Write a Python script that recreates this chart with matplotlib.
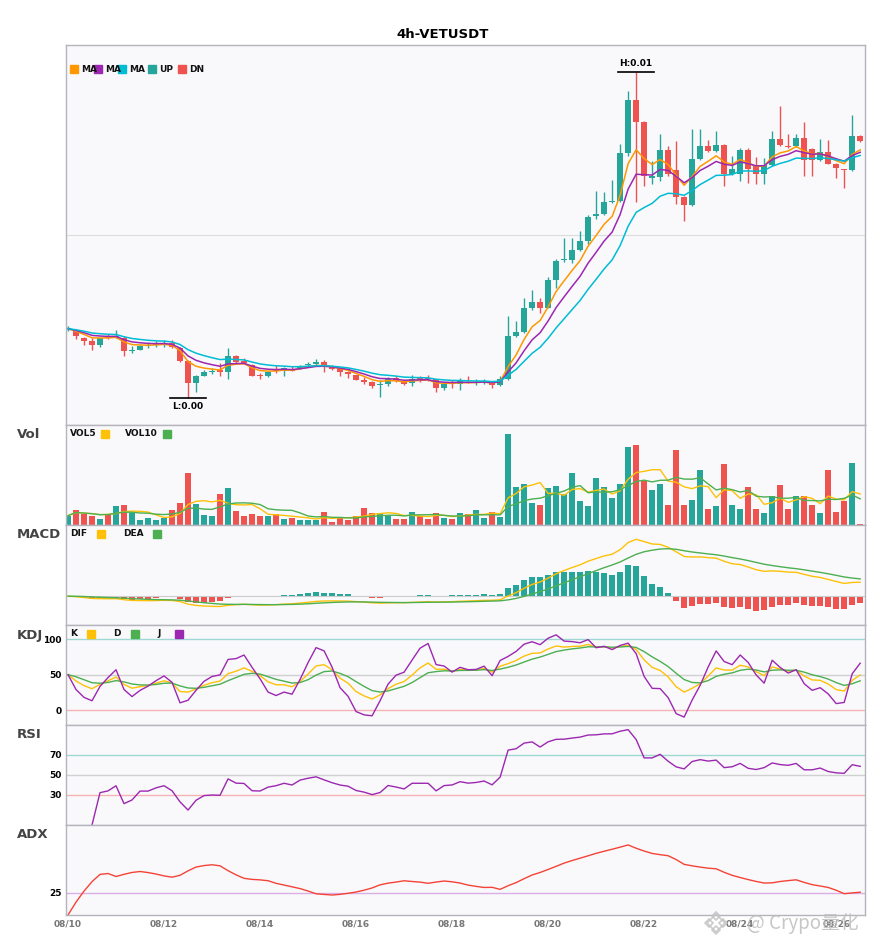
import numpy as np
import pandas as pd
import matplotlib
matplotlib.use('Agg')
import matplotlib.pyplot as plt
from matplotlib.patches import Rectangle
from matplotlib.lines import Line2D

# ---- data (prices in 1e-5 USDT, 4h candles) ----
opens = [541, 540, 523, 518, 510, 525, 526, 523, 497, 500,
         507, 510, 512, 513, 503, 477, 433, 448, 455, 460,
         455, 488, 478, 470, 449, 447, 462, 457, 462, 462,
         469, 472, 475, 467, 461, 456, 449, 440, 436, 429,
         431, 443, 437, 433, 442, 442, 441, 423, 435, 431,
         435, 434, 435, 435, 430, 442, 527, 536, 584, 596,
         584, 640, 679, 680, 700, 718, 767, 771, 796, 797,
         893, 999, 955, 844, 845, 900, 860, 806, 789, 882,
         908, 897, 910, 851, 852, 900, 868, 851, 870, 922,
         908, 908, 924, 901, 880, 895, 872, 862, 860, 928]
highs = [547, 542, 526, 523, 524, 532, 540, 528, 507, 509,
         515, 517, 519, 520, 506, 480, 450, 460, 463, 473,
         503, 490, 484, 472, 453, 456, 470, 466, 468, 470,
         476, 481, 480, 470, 462, 458, 450, 445, 438, 440,
         445, 447, 440, 449, 447, 450, 442, 432, 440, 443,
         448, 441, 441, 437, 447, 567, 557, 604, 620, 604,
         646, 681, 723, 724, 738, 770, 818, 816, 840, 911,
         1018, 1056, 958, 878, 932, 907, 918, 808, 942, 942,
         920, 938, 912, 888, 904, 904, 885, 884, 937, 987,
         932, 932, 956, 904, 922, 920, 874, 862, 969, 930]
lows = [537, 521, 510, 500, 505, 521, 523, 488, 493, 499,
        503, 505, 505, 503, 476, 403, 415, 447, 452, 447,
        441, 473, 472, 447, 441, 446, 454, 448, 457, 461,
        465, 470, 455, 459, 448, 443, 439, 431, 423, 405,
        427, 435, 430, 427, 436, 438, 415, 420, 423, 420,
        433, 429, 431, 423, 428, 440, 525, 534, 579, 573,
        583, 623, 675, 673, 698, 712, 761, 769, 793, 796,
        888, 795, 827, 832, 837, 848, 792, 758, 788, 880,
        896, 896, 827, 850, 837, 833, 831, 831, 868, 908,
        904, 906, 848, 847, 878, 872, 844, 823, 858, 915]
closes = [542, 527, 518, 510, 523, 524, 527, 497, 500, 508,
          508, 511, 513, 505, 477, 433, 448, 456, 457, 456,
          488, 475, 474, 448, 447, 455, 458, 463, 458, 468,
          472, 475, 468, 461, 455, 452, 440, 435, 427, 430,
          441, 437, 432, 441, 441, 441, 423, 431, 432, 437,
          434, 435, 437, 430, 441, 527, 536, 583, 596, 584,
          640, 678, 681, 700, 718, 765, 771, 796, 798, 894,
          999, 955, 847, 847, 900, 851, 806, 789, 881, 908,
          897, 910, 851, 861, 900, 861, 851, 870, 922, 910,
          905, 924, 880, 880, 895, 872, 863, 860, 928, 918]
volumes = [28, 46, 33, 28, 19, 33, 58, 61, 36, 16,
           22, 16, 22, 46, 67, 154, 64, 31, 28, 91,
           109, 43, 28, 34, 28, 28, 34, 19, 22, 16,
           16, 16, 40, 10, 25, 16, 28, 52, 37, 37,
           28, 19, 19, 40, 28, 19, 37, 22, 19, 37,
           34, 46, 22, 40, 25, 271, 112, 121, 67, 61,
           109, 115, 91, 154, 73, 58, 139, 112, 79, 121,
           232, 238, 130, 103, 121, 61, 223, 61, 76, 163,
           49, 58, 181, 61, 49, 112, 49, 37, 85, 118,
           49, 85, 85, 61, 37, 163, 40, 73, 184, 2]
date_labels = ['08/10', '08/12', '08/14', '08/16', '08/18', '08/20', '08/22', '08/24', '08/26']
date_pos = [0, 12, 24, 36, 48, 60, 72, 84, 96]

UP = '#26a69a'
DN = '#ef5350'
YEL = '#ffc107'
GRN = '#4caf50'
PUR = '#9c27b0'
BG = '#f9f9fc'
EDGE = '#b4b4bc'

df = pd.DataFrame({'o': opens, 'h': highs, 'l': lows, 'c': closes}) * 1e-5
df['v'] = volumes
x = np.arange(len(df))
up = df.c >= df.o
cols = np.where(up, UP, DN)

# indicators
ma1 = df.c.ewm(span=5, adjust=False).mean()
ma2 = df.c.ewm(span=8, adjust=False).mean()
ma3 = df.c.ewm(span=14, adjust=False).mean()
vol5 = df.v.rolling(5, min_periods=1).mean()
vol10 = df.v.rolling(10, min_periods=1).mean()

dif = df.c.ewm(span=12, adjust=False).mean() - df.c.ewm(span=26, adjust=False).mean()
dea = dif.ewm(span=9, adjust=False).mean()
hist = 2 * (dif - dea)

llv = df.l.rolling(9, min_periods=1).min()
hhv = df.h.rolling(9, min_periods=1).max()
rsv = (df.c - llv) / (hhv - llv) * 100
k = rsv.ewm(com=2, adjust=False).mean()
d = k.ewm(com=2, adjust=False).mean()
j = 3 * k - 2 * d

chg = df.c.diff()
gain = chg.clip(lower=0).ewm(alpha=1/14, min_periods=3).mean()
loss = (-chg).clip(lower=0).ewm(alpha=1/14, min_periods=3).mean()
rsi = 100 * gain / (gain + loss)

pc = df.c.shift()
tr = pd.concat([df.h - df.l, (df.h - pc).abs(), (df.l - pc).abs()], axis=1).max(axis=1)
upm = df.h.diff()
dnm = -df.l.diff()
pdm = pd.Series(np.where((upm > dnm) & (upm > 0), upm, 0.0))
mdm = pd.Series(np.where((dnm > upm) & (dnm > 0), dnm, 0.0))
atr = tr.ewm(alpha=1/12, adjust=False).mean()
pdi = 100 * pdm.ewm(alpha=1/12, adjust=False).mean() / atr
mdi = 100 * mdm.ewm(alpha=1/12, adjust=False).mean() / atr
dx = (100 * (pdi - mdi).abs() / (pdi + mdi)).fillna(0)
adx = dx.ewm(alpha=1/7, adjust=False).mean()

# ---- figure ----
W, H = 885, 950
fig = plt.figure(figsize=(W / 100, H / 100), dpi=100)
fig.patch.set_facecolor('white')

def make_ax(top, bottom):
    ax = fig.add_axes([66 / W, 1 - bottom / H, (865 - 66) / W, (bottom - top) / H])
    ax.set_facecolor(BG)
    for s in ax.spines.values():
        s.set_color(EDGE)
        s.set_linewidth(1)
    ax.set_xlim(-0.25, 99.6)
    ax.set_xticks([])
    ax.tick_params(axis='y', length=0, labelsize=6.5, pad=3)
    return ax

def fx(px):
    return px / W

def fy(py):
    return 1 - py / H

def square(px, py, color):
    fig.add_artist(Rectangle((fx(px), fy(py + 4)), 8 / W, 8 / H, color=color,
                             transform=fig.transFigure))

def label(px, py, s, size=6.5, color='#111111'):
    fig.text(fx(px), fy(py), s, fontsize=size, fontweight='bold', color=color, va='center', ha='left')

fig.text(0.5, fy(34), '4h-VETUSDT', ha='center', va='center', fontsize=9.5, fontweight='bold')

# price panel
ax = make_ax(45, 425)
lo, hi = df.l.min(), df.h.max()
r = hi - lo
ax.set_ylim(lo - 0.082 * r, hi + 0.082 * r)
ax.set_yticks([(lo + hi) / 2])
ax.set_yticklabels([])
ax.grid(axis='y', color='#dcdcdc', lw=0.8)
ax.set_axisbelow(True)
ax.vlines(x, df.l, df.h, colors=cols, lw=1)
body = np.maximum((df.c - df.o).abs(), 1.5e-5)
ax.bar(x, body, bottom=np.minimum(df.o, df.c), width=0.72, color=cols)
ax.plot(x, ma1, color='#ff9800', lw=1.1)
ax.plot(x, ma2, color=PUR, lw=1.1)
ax.plot(x, ma3, color='#00bcd4', lw=1.1)
ih, il = int(df.h.idxmax()), int(df.l.idxmin())
ax.plot([ih - 2.25, ih + 2.25], [hi, hi], color='black', lw=1.2)
ax.annotate(f'H:{hi:.2f}', (ih, hi), xytext=(0, 3), textcoords='offset points',
            ha='center', va='bottom', fontsize=6.5, fontweight='bold')
ax.plot([il - 2.25, il + 2.25], [lo, lo], color='black', lw=1.2)
ax.annotate(f'L:{lo:.2f}', (il, lo), xytext=(0, -3), textcoords='offset points',
            ha='center', va='top', fontsize=6.5, fontweight='bold')
legend_items = [(70, '#ff9800', 'MA'), (94, PUR, 'MA'), (118, '#00bcd4', 'MA'), (148, UP, 'UP'), (178, DN, 'DN')]
for px, c, s in legend_items:
    label(px + 11, 69, s)
for px, c, s in legend_items:
    square(px, 69, c)

# volume
ax = make_ax(425, 525)
ax.bar(x, df.v, width=0.82, color=cols)
ax.plot(x, vol5, color=YEL, lw=1)
ax.plot(x, vol10, color=GRN, lw=1)
ax.set_ylim(0, df.v.max() * 1.1)
ax.set_yticks([])
label(70, 434, 'VOL5'); square(101, 434, YEL)
label(125, 434, 'VOL10'); square(163, 434, GRN)

# macd
ax = make_ax(525, 625)
ax.axhline(0, color='#cccccc', lw=0.8)
ax.bar(x, hist, width=0.82, color=np.where(hist >= 0, UP, DN))
ax.plot(x, dif, color=YEL, lw=1)
ax.plot(x, dea, color=GRN, lw=1)
mlo = min(dif.min(), dea.min(), hist.min())
mhi = max(dif.max(), dea.max(), hist.max())
ax.set_ylim(mlo - 0.2 * (mhi - mlo), mhi + 0.2 * (mhi - mlo))
ax.set_yticks([])
label(70, 534, 'DIF'); square(97, 534, YEL)
label(123, 534, 'DEA'); square(153, 534, GRN)

# kdj
ax = make_ax(625, 725)
ax.axhline(100, color='#9fd8d2', lw=1)
ax.axhline(50, color='#d0d0d0', lw=1)
ax.axhline(0, color='#f6b3b3', lw=1)
ax.plot(x, k, color=YEL, lw=1)
ax.plot(x, d, color=GRN, lw=1)
ax.plot(x, j, color=PUR, lw=1)
ax.set_ylim(-21, 120)
ax.set_yticks([0, 50, 100])
ax.set_yticklabels(['0', '50', '100'], fontweight='bold')
label(70, 634, 'K'); square(87, 634, YEL)
label(113, 634, 'D'); square(131, 634, GRN)
label(157, 634, 'J'); square(175, 634, PUR)

# rsi
ax = make_ax(725, 825)
ax.axhline(70, color='#9fd8d2', lw=1)
ax.axhline(50, color='#d0d0d0', lw=1)
ax.axhline(30, color='#f6b3b3', lw=1)
ax.plot(x, rsi, color=PUR, lw=1)
ax.set_ylim(0, 100)
ax.set_yticks([30, 50, 70])
ax.set_yticklabels(['30', '50', '70'], fontweight='bold')

# adx
ax = make_ax(825, 915)
ax.axhline(25, color='#dcaee6', lw=1)
ax.plot(x, adx, color='#f44336', lw=1)
ax.set_ylim(0, 100)
ax.set_yticks([25])
ax.set_yticklabels(['25'], fontweight='bold')
ax.set_xticks(date_pos)
ax.set_xticklabels(date_labels, fontsize=6.5, fontweight='bold', color='#777777')
ax.tick_params(axis='x', length=0, pad=3)

for py, s in [(435, 'Vol'), (535, 'MACD'), (635, 'KDJ'), (735, 'RSI'), (835, 'ADX')]:
    fig.text(fx(17), fy(py), s, fontsize=9.5, fontweight='bold', color='#444444', va='center')

# watermark (sits over the last tick labels, as in the source image)
for dx_, dy_, ms in [(0, 0, 9), (-7, 0, 4), (7, 0, 4), (0, -7, 4), (0, 7, 4)]:
    fig.add_artist(Line2D([fx(716 + dx_)], [fy(923 + dy_)], marker='D', ms=ms, mfc='none',
                          mec='#c4c4c4', mew=1.2, alpha=0.85, transform=fig.transFigure))
fig.text(fx(747), fy(923), '@ Crypo量化', fontsize=13.5, color='#bdbdbd', va='center', alpha=0.85,
         family=['Noto Sans CJK SC', 'DejaVu Sans'], zorder=10)

fig.savefig('out.png', dpi=100)
